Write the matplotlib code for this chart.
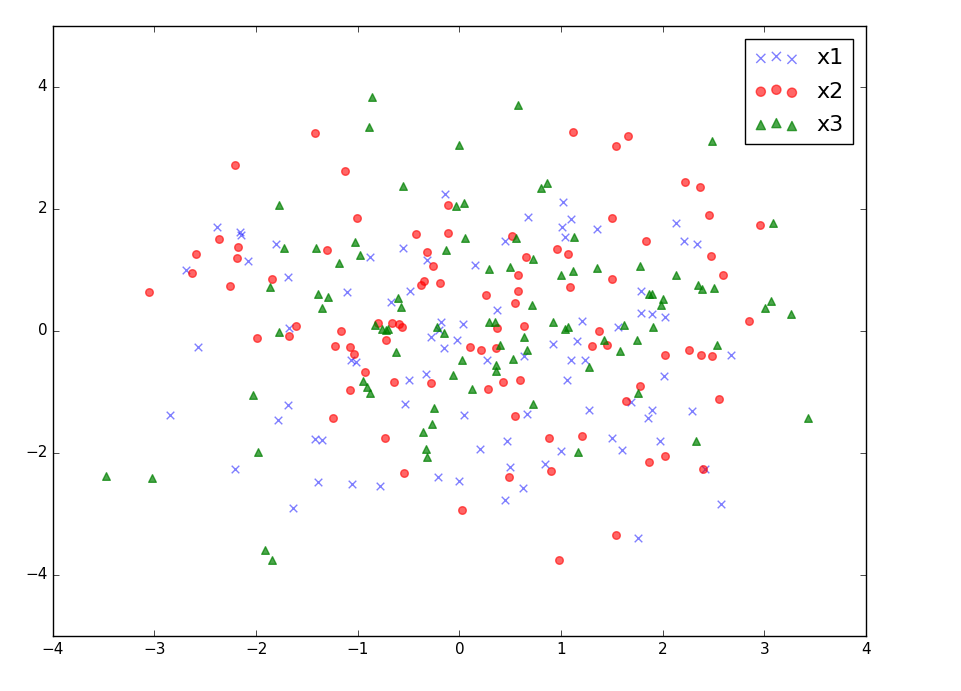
import matplotlib
matplotlib.use("Agg")
import matplotlib.pyplot as plt

x1_x = [-2.69,-2.57,-2.85,-2.38,-2.16,-2.15,-2.08,-2.21,-1.80,-1.69,-1.68,-1.69,-1.78,-1.64,-1.42,-1.35,-1.39,-1.11,-1.06,-1.07,-1.02,-0.88,-0.78,-0.67,-0.53,-0.50,-0.55,-0.49,-0.32,-0.33,-0.28,-0.20,-0.18,-0.14,-0.15,-0.21,-0.02,0.00,0.04,0.15,0.20,0.27,0.37,0.45,0.47,0.45,0.50,0.63,0.64,0.68,0.84,0.92,1.02,1.01,1.04,1.06,1.10,1.10,1.16,1.21,1.24,1.28,1.35,1.50,1.56,1.60,1.69,1.79,1.79,1.86,1.90,1.90,1.97,2.01,2.02,2.13,2.21,2.29,2.34,2.42,2.57,2.67,1.76,1.00,0.67,0.05]
x1_y = [1.00,-0.26,-1.38,1.70,1.62,1.57,1.15,-2.26,1.43,0.89,0.05,-1.21,-1.46,-2.90,-1.77,-1.79,-2.48,0.64,-2.51,-0.48,-0.51,1.21,-2.54,0.48,-1.20,-0.80,1.36,0.66,1.16,-0.70,-0.10,0.02,0.15,2.25,-0.28,-2.39,-0.15,-2.46,0.11,1.08,-1.93,-0.48,0.34,1.48,-1.80,-2.77,-2.23,-2.57,-0.41,1.87,-2.18,-0.21,2.11,1.70,1.54,-0.80,1.84,-0.48,-0.16,0.16,-0.48,-1.30,1.67,-1.75,0.07,-1.95,-1.16,0.66,0.30,-1.43,-1.30,0.28,-1.80,-0.74,0.23,1.77,1.48,-1.31,1.43,-2.26,-2.84,-0.39,-3.39,-1.97,-1.36,-1.38]

x2_x = [-3.05,-2.63,-2.59,-2.37,-2.26,-2.21,-2.18,-2.19,-1.99,-1.84,-1.68,-1.61,-1.42,-1.30,-1.24,-1.22,-1.16,-1.13,-1.08,-1.08,-1.04,-1.01,-0.93,-0.80,-0.73,-0.72,-0.66,-0.64,-0.59,-0.56,-0.54,-0.43,-0.38,-0.35,-0.32,-0.28,-0.26,-0.19,-0.11,-0.11,0.03,0.10,0.21,0.26,0.28,0.36,0.37,0.43,0.49,0.52,0.55,0.58,0.58,0.55,0.60,0.64,0.66,0.88,0.90,0.96,0.98,1.07,1.09,1.12,1.21,1.31,1.37,1.45,1.50,1.50,1.54,1.54,1.66,1.64,1.78,1.84,1.87,2.02,2.02,2.22,2.26,2.37,2.38,2.40,2.48,2.46,2.49,2.55,2.59,2.85,2.96]
x2_y = [0.64,0.95,1.26,1.51,0.74,2.72,1.38,1.20,-0.11,0.85,-0.08,0.08,3.25,1.33,-1.43,-0.25,0.00,2.62,-0.97,-0.26,-0.38,1.85,-0.67,0.13,-1.75,-0.15,0.13,-0.84,0.11,0.07,-2.33,1.59,0.75,0.82,1.30,-0.85,1.07,0.79,1.61,2.07,-2.93,-0.26,-0.31,0.59,-0.95,-0.28,0.05,-0.84,-2.39,1.56,0.46,0.66,0.92,-1.39,-0.80,0.08,1.21,-1.75,-2.30,1.34,-3.75,1.26,0.72,3.26,-1.72,-0.25,0.00,-0.23,1.85,0.85,3.03,-3.34,3.20,-1.15,-0.90,1.48,-2.15,-0.39,-2.05,2.44,-0.31,2.36,-0.39,-2.26,1.23,1.90,-0.41,-1.11,0.92,0.16,1.74]

x3_x = [-3.48,-3.02,-2.03,-1.98,-1.91,-1.84,-1.86,-1.77,-1.77,-1.73,-1.41,-1.39,-1.35,-1.29,-1.18,-1.03,-0.98,-0.95,-0.91,-0.88,-0.89,-0.86,-0.83,-0.76,-0.72,-0.70,-0.62,-0.60,-0.57,-0.55,-0.36,-0.33,-0.32,-0.27,-0.25,-0.22,-0.15,-0.13,-0.06,-0.03,0.00,0.03,0.05,0.06,0.12,0.29,0.29,0.35,0.36,0.36,0.40,0.50,0.53,0.56,0.58,0.64,0.67,0.72,0.72,0.71,0.80,0.86,0.92,1.00,1.04,1.07,1.13,1.12,1.17,1.28,1.35,1.42,1.58,1.62,1.75,1.78,1.76,1.87,1.90,1.91,1.98,2.00,2.13,2.35,2.33,2.39,2.49,2.51,2.54,3.01,3.07,3.09,3.26,3.43]
x3_y = [-2.38,-2.41,-1.05,-1.98,-3.59,-3.75,0.72,-0.02,2.07,1.36,1.36,0.61,0.38,0.56,1.11,1.46,1.25,-0.82,-0.92,-1.02,3.34,3.84,0.10,0.03,0.02,0.03,-0.34,0.54,0.39,2.38,-1.66,-1.93,-2.07,-1.52,-1.26,0.07,-0.03,1.33,-0.72,2.05,3.05,-0.48,2.10,1.52,-0.95,1.02,0.15,0.15,-0.56,-0.66,-0.23,1.05,-0.46,1.52,3.70,-0.10,-0.31,1.18,-1.20,0.43,2.34,2.43,0.15,0.92,0.03,0.07,1.54,0.98,-1.98,-0.59,1.03,-0.15,-0.33,0.10,-0.15,1.07,-1.02,0.61,0.61,0.07,0.43,0.52,0.92,0.75,-1.80,0.69,3.11,0.70,-0.23,0.38,0.49,1.77,0.28,-1.43]

plt.style.use('classic')
fig = plt.figure(figsize=(9.61, 6.91), dpi=100, facecolor='white')
ax = fig.add_axes([0.055, 0.0796, 0.846, 0.8828])
ax.scatter(x1_x, x1_y, marker='x', c='b', alpha=0.5, s=30, label='x1')
ax.scatter(x2_x, x2_y, marker='o', c='r', edgecolors='r', alpha=0.6, s=30, label='x2')
ax.scatter(x3_x, x3_y, marker='^', c='g', edgecolors='g', alpha=0.7, s=30, label='x3')
ax.set_xlim(-4, 4)
ax.set_ylim(-5, 5)
ax.set_xticks(range(-4, 5))
ax.set_yticks([-4, -2, 0, 2, 4])
ax.tick_params(labelsize=11)
ax.legend(loc='upper right', scatterpoints=3, fontsize=16, labelspacing=0.6,
          markerscale=1.2, borderaxespad=0.6)
fig.savefig('out.png', dpi=100, facecolor='white')
